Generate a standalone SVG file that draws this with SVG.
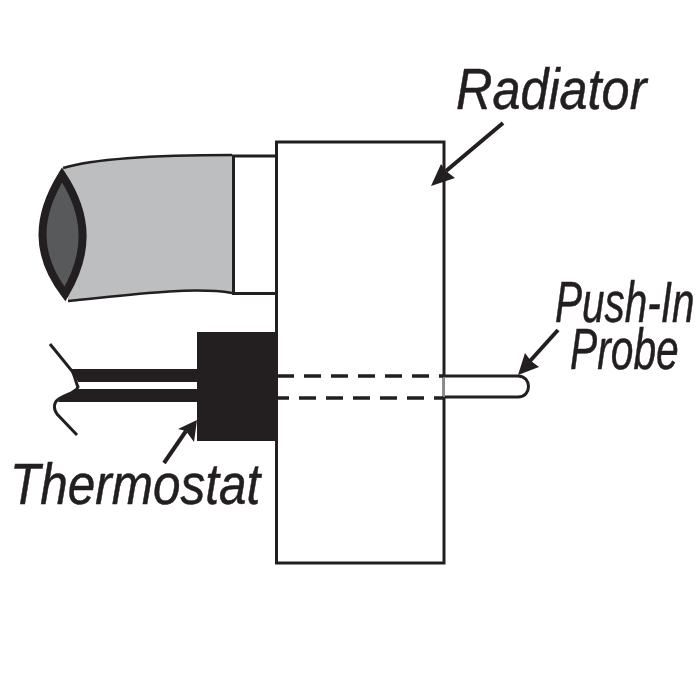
<svg xmlns="http://www.w3.org/2000/svg" width="700" height="700" viewBox="0 0 700 700">
<style>
.t{font-family:"Liberation Sans",Arial,sans-serif;font-style:italic;fill:#231f20;font-size:57px;stroke:#231f20;stroke-width:.5}
.l{fill:none;stroke:#231f20;stroke-width:3}
.a{fill:none;stroke:#231f20;stroke-width:4}
.h{fill:#231f20}
.d{fill:none;stroke:#231f20;stroke-width:3.500;stroke-dasharray:17 10}
</style>
<rect width="700" height="700" fill="#fff"/>
<g id="hose">
<path d="M63 168C100 157 170 155 232 155L232 293C190 286 120 296 68 301Z" fill="#bcbec0"/>
<path d="M63 168C100 157 170 155 232 155M232 293C190 286 120 296 68 301" fill="none" stroke="#231f20" stroke-width="2.500"/>
<path d="M62 175C36 217 35 255 65 294C88 255 90 217 62 175Z" fill="#58595b" stroke="#231f20" stroke-width="8" stroke-miterlimit="12"/>
</g>
<g id="neck"><path d="M277 156H233.500V293.500H277" fill="#fff" stroke="#231f20" stroke-width="3"/></g>
<g id="radiator"><rect x="276.500" y="142" width="167.500" height="421" fill="#fff" stroke="#231f20" stroke-width="3"/></g>
<g id="thermostat">
<rect x="197" y="332" width="80" height="109" fill="#231f20"/>
<path class="h" d="M71 369H197V382H78C76 378 74 373 71 369Z"/>
<path class="h" d="M78 389H197V402H58C62 394 72 394 78 389Z"/>
<path class="l" d="M50 344L72 371C75 376 76 383 78 387C76 392 68 394 62 397C53 401 53 408 57 414L77 435"/>
</g>
<g id="probe">
<path d="M445 376H518C532 376 532 397 518 397H445" fill="#fff" stroke="#231f20" stroke-width="3"/>
<path class="d" d="M277 376H444"/>
<path class="d" d="M272 398H444"/>
<path d="M444 377V397" stroke="#8a8a8a" stroke-width="2"/>
</g>
<g id="connectors">
<path class="a" d="M503 123L446 171"/><path class="h" d="M431 186L441 164L446 171L455 178Z"/>
<path class="a" d="M558 330L530 361"/><path class="h" d="M518 375L525 353L531 361L539 367Z"/>
<path class="a" d="M164 463L186 431"/><path class="h" d="M197 420L178 429L186 431L194 442Z"/>
</g>
<g id="labels">
<text class="t" transform="translate(456 109) scale(.884 1)">Radiator</text>
<text class="t" transform="translate(555 322) scale(.71 1)">Push-In</text>
<text class="t" transform="translate(570 369) scale(.715 1)">Probe</text>
<text class="t" transform="translate(10 504) scale(.868 1)">Thermostat</text>
</g>
</svg>
